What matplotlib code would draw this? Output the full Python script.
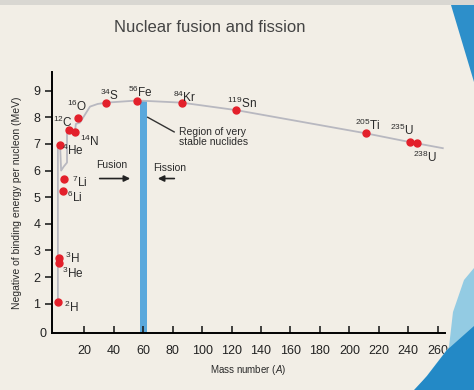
import matplotlib
matplotlib.use("Agg")
import matplotlib.pyplot as plt
from matplotlib.patches import Polygon

# ============================================================
# Data
# ============================================================

NUCLIDES = ["$^{2}$H", "$^{3}$H", "$^{3}$He", "$^{4}$He", "$^{6}$Li", "$^{7}$Li",
            "$^{12}$C", "$^{14}$N", "$^{16}$O", "$^{34}$S", "$^{56}$Fe", "$^{84}$Kr",
            "$^{119}$Sn", "$^{205}$Ti", "$^{235}$U", "$^{238}$U"]
MASS = [2, 3, 3, 3.5, 5.5, 6.2, 9.5, 13.6, 15.7, 35, 56, 86, 123, 211, 241, 246]
ENERGY = [1.05, 2.7, 2.52, 6.95, 5.23, 5.68, 7.52, 7.44, 7.97, 8.53, 8.6, 8.53,
          8.27, 7.4, 7.07, 7.03]

# smooth trend curve drawn behind the points
CURVE_A = [2, 2, 3.5, 4.2, 6.0, 8.2, 8.2, 9.5, 13.6, 14.2, 17, 23.8, 29, 35,
           56, 86, 123, 211, 241, 263.5]
CURVE_E = [1.05, 6.95, 6.95, 6.0, 6.15, 6.3, 7.52, 7.55, 7.44, 7.75, 7.8, 8.4,
           8.5, 8.55, 8.63, 8.55, 8.27, 7.4, 7.07, 6.84]

XTICKS = list(range(20, 261, 20))
YTICKS = list(range(1, 10))

# ============================================================
# Style
# ============================================================

plt.rcParams["font.family"] = ["Liberation Sans", "DejaVu Sans"]
plt.rcParams["mathtext.fontset"] = "custom"
plt.rcParams["mathtext.rm"] = "Liberation Sans"
plt.rcParams["mathtext.it"] = "Liberation Sans:italic"
plt.rcParams["mathtext.default"] = "regular"

TXT = "#2a2a2a"
RED = "#e3202b"
BLUE = "#5aa8dc"

fig = plt.figure(figsize=(4.74, 3.90), dpi=100)
fig.patch.set_facecolor("#f2eee6")

# slide decoration
fig.patches.append(Polygon([(451/474, 1-5/390), (1, 1-5/390), (1, 1-82/390)],
                           closed=True, transform=fig.transFigure,
                           facecolor="#2d8fca", edgecolor="none"))
fig.patches.append(Polygon([(464/474, 1-280/390), (1, 1-268/390), (1, 0),
                            (416/474, 0), (449/474, 1-347/390), (453/474, 1-312/390)],
                           closed=True, transform=fig.transFigure,
                           facecolor="#93cbe3", edgecolor="none"))
fig.patches.append(Polygon([(414/474, 0), (427/474, 1-376/390), (447/474, 1-350/390),
                            (1, 1-326/390), (1, 0)],
                           closed=True, transform=fig.transFigure,
                           facecolor="#2389c6", edgecolor="none"))
fig.patches.append(Polygon([(0, 1), (1, 1), (1, 1-5/390), (0, 1-5/390)],
                           closed=True, transform=fig.transFigure,
                           facecolor="#d9d7d2", edgecolor="none"))

fig.text(210/474, 1-27/390, "Nuclear fusion and fission", ha="center",
         va="center", fontsize=12, color="#444444")

ax = fig.add_axes([52/474, 1-333/390, 393/474, 261/390])
ax.set_facecolor("none")

# ============================================================
# Plot
# ============================================================

ax.bar(60, 8.7, width=4.6, bottom=-0.1, color=BLUE, zorder=1)

ax.plot(CURVE_A, CURVE_E, color="#b8b8c0", linewidth=1.3, zorder=2)

ax.plot(MASS, ENERGY, "o", color=RED, markersize=5, zorder=3)

# label offsets for each nuclide (dx, dy, ha)
OFFS = [(4, -0.18, "left"), (4, 0.0, "left"), (2, -0.38, "left"),
        (1.3, -0.18, "left"), (2.7, -0.23, "left"), (5.4, -0.13, "left"),
        (2.8, 0.28, "right"), (3.4, -0.34, "left"), (-0.7, 0.45, "center"),
        (2, 0.3, "center"), (1.8, 0.35, "center"), (2, 0.23, "center"),
        (4, 0.26, "center"), (1.7, 0.3, "center"), (-5, 0.43, "center"),
        (5, -0.53, "center")]

for name, a, e, (dx, dy, ha) in zip(NUCLIDES, MASS, ENERGY, OFFS):
    ax.text(a + dx, e + dy, name, ha=ha, va="center", fontsize=8.5, color=TXT)

# fusion / fission arrows
ax.text(28, 6.2, "Fusion", fontsize=7.5, color=TXT, va="center")
ax.annotate("", xy=(53, 5.7), xytext=(28.5, 5.7),
            arrowprops=dict(arrowstyle="-|>", color="#222222", lw=1.2,
                            mutation_scale=9))
ax.text(67, 6.1, "Fission", fontsize=7.5, color=TXT, va="center")
ax.annotate("", xy=(68, 5.7), xytext=(83, 5.7),
            arrowprops=dict(arrowstyle="-|>", color="#222222", lw=1.2,
                            mutation_scale=9))

ax.plot([63, 81], [8.0, 7.45], color="#333333", linewidth=1.0)
ax.text(84, 7.27, "Region of very\nstable nuclides", fontsize=7.5, color=TXT,
        va="center", linespacing=0.95)

# ============================================================
# Axes
# ============================================================

ax.set_xlim(-2, 265)
ax.set_ylim(-0.1, 9.7)

ax.spines["top"].set_visible(False)
ax.spines["right"].set_visible(False)
ax.spines["left"].set_linewidth(1.4)
ax.spines["bottom"].set_linewidth(1.4)

ax.set_xticks(XTICKS)
ax.set_yticks(YTICKS)
ax.tick_params(axis="x", direction="in", length=5, width=1.2, labelsize=9,
               colors="#222222", pad=9)
ax.tick_params(axis="y", direction="out", length=5, width=1.2, labelsize=9,
               colors="#222222")
ax.text(-6, -0.15, "0", ha="right", va="center", fontsize=9, color="#222222")

ax.set_xlabel("Mass number ($\\mathit{A}$)", fontsize=7, color=TXT, labelpad=4)
ax.set_ylabel("Negative of binding energy per nucleon (MeV)", fontsize=7.5,
              color=TXT, labelpad=8)

fig.savefig("out.png", dpi=100, facecolor=fig.get_facecolor())
